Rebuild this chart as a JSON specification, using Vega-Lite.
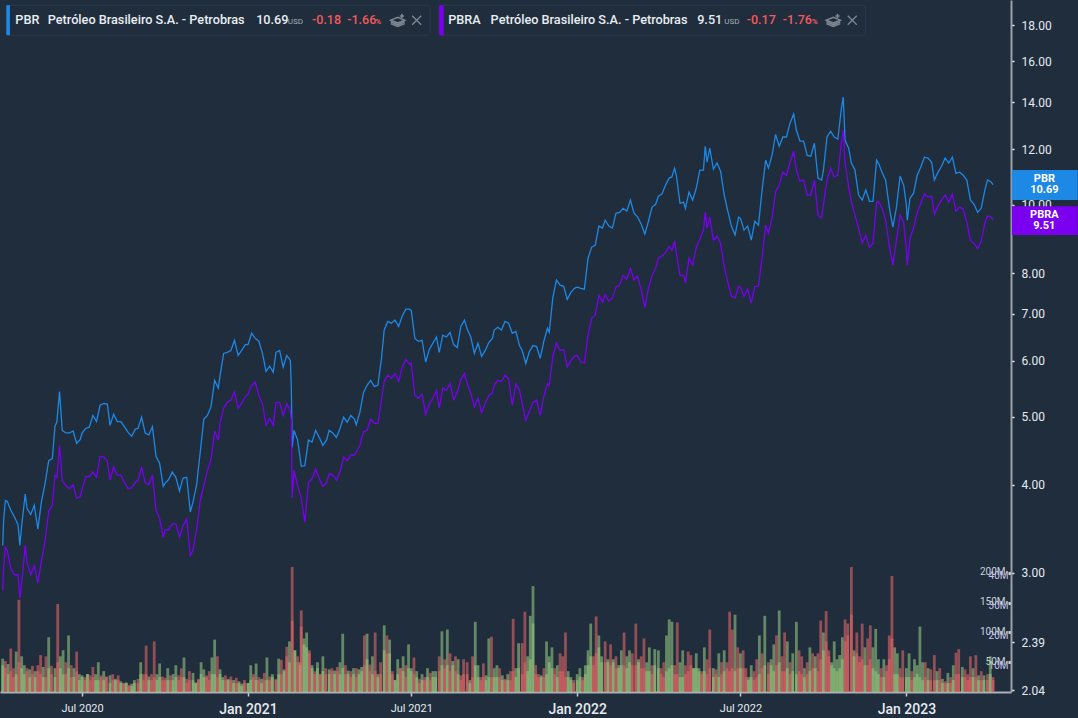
{
"$schema":"https://vega.github.io/schema/vega-lite/v6.json",
"width":1011,"height":692,
"autosize":"none",
"padding":{"left":0,"top":0,"right":67,"bottom":26},
"background":"#1f2d3d",
"config":{"view":{"stroke":null},"font":"Roboto"},
"datasets":{
"prices":[
{"d":"2020-04-04","PBR":3.28,"PBRA":2.83},{"d":"2020-04-05","PBR":3.56,"PBRA":3.05},{"d":"2020-04-07","PBR":3.8,"PBRA":3.26},{"d":"2020-04-09","PBR":3.79,"PBRA":3.23},{"d":"2020-04-13","PBR":3.68,"PBRA":3.04},{"d":"2020-04-17","PBR":3.6,"PBRA":2.98},{"d":"2020-04-21","PBR":3.51,"PBRA":2.98},{"d":"2020-04-23","PBR":3.28,"PBRA":2.76},{"d":"2020-04-25","PBR":3.5,"PBRA":2.9},{"d":"2020-04-29","PBR":3.88,"PBRA":3.28},
{"d":"2020-05-01","PBR":3.7,"PBRA":3.1},{"d":"2020-05-05","PBR":3.63,"PBRA":2.98},{"d":"2020-05-09","PBR":3.74,"PBRA":3.07},{"d":"2020-05-13","PBR":3.46,"PBRA":2.9},{"d":"2020-05-17","PBR":3.79,"PBRA":3.12},{"d":"2020-05-21","PBR":4.02,"PBRA":3.33},{"d":"2020-05-25","PBR":4.33,"PBRA":3.67},{"d":"2020-05-29","PBR":4.36,"PBRA":3.74},
{"d":"2020-06-01","PBR":4.85,"PBRA":4.13},{"d":"2020-06-03","PBR":4.91,"PBRA":4.1},{"d":"2020-06-06","PBR":5.43,"PBRA":4.55},{"d":"2020-06-09","PBR":4.78,"PBRA":4.06},{"d":"2020-06-13","PBR":4.74,"PBRA":3.99},{"d":"2020-06-17","PBR":4.74,"PBRA":3.95},{"d":"2020-06-21","PBR":4.77,"PBRA":4.0},{"d":"2020-06-25","PBR":4.58,"PBRA":3.83},{"d":"2020-06-29","PBR":4.64,"PBRA":3.85},
{"d":"2020-07-01","PBR":4.74,"PBRA":3.94},{"d":"2020-07-05","PBR":4.81,"PBRA":4.11},{"d":"2020-07-09","PBR":4.83,"PBRA":4.11},{"d":"2020-07-13","PBR":5.02,"PBRA":4.17},{"d":"2020-07-17","PBR":4.92,"PBRA":4.1},{"d":"2020-07-21","PBR":5.19,"PBRA":4.39},{"d":"2020-07-25","PBR":5.22,"PBRA":4.38},{"d":"2020-07-29","PBR":5.21,"PBRA":4.33},
{"d":"2020-08-01","PBR":4.86,"PBRA":4.06},{"d":"2020-08-05","PBR":5.04,"PBRA":4.24},{"d":"2020-08-09","PBR":4.92,"PBRA":4.13},{"d":"2020-08-13","PBR":4.92,"PBRA":4.13},{"d":"2020-08-17","PBR":4.84,"PBRA":4.03},{"d":"2020-08-21","PBR":4.75,"PBRA":3.95},{"d":"2020-08-25","PBR":4.69,"PBRA":3.96},{"d":"2020-08-29","PBR":4.8,"PBRA":4.03},
{"d":"2020-09-01","PBR":4.81,"PBRA":4.06},{"d":"2020-09-05","PBR":4.99,"PBRA":4.24},{"d":"2020-09-09","PBR":4.74,"PBRA":4.03},{"d":"2020-09-13","PBR":4.71,"PBRA":4.0},{"d":"2020-09-17","PBR":4.84,"PBRA":4.13},{"d":"2020-09-21","PBR":4.39,"PBRA":3.68},{"d":"2020-09-25","PBR":4.29,"PBRA":3.58},{"d":"2020-09-29","PBR":3.98,"PBRA":3.37},
{"d":"2020-10-01","PBR":4.02,"PBRA":3.45},{"d":"2020-10-05","PBR":4.07,"PBRA":3.45},{"d":"2020-10-09","PBR":4.17,"PBRA":3.52},{"d":"2020-10-13","PBR":4.1,"PBRA":3.52},{"d":"2020-10-17","PBR":3.92,"PBRA":3.37},{"d":"2020-10-21","PBR":4.09,"PBRA":3.5},{"d":"2020-10-25","PBR":4.1,"PBRA":3.58},{"d":"2020-10-29","PBR":3.66,"PBRA":3.17},
{"d":"2020-11-01","PBR":3.78,"PBRA":3.23},{"d":"2020-11-05","PBR":4.0,"PBRA":3.45},{"d":"2020-11-09","PBR":4.45,"PBRA":3.8},{"d":"2020-11-13","PBR":4.96,"PBRA":3.99},{"d":"2020-11-17","PBR":5.02,"PBRA":4.19},{"d":"2020-11-21","PBR":5.17,"PBRA":4.35},{"d":"2020-11-25","PBR":5.63,"PBRA":4.77},{"d":"2020-11-29","PBR":5.49,"PBRA":4.63},
{"d":"2020-12-01","PBR":5.72,"PBRA":4.89},{"d":"2020-12-05","PBR":6.15,"PBRA":5.14},{"d":"2020-12-09","PBR":6.17,"PBRA":5.24},{"d":"2020-12-13","PBR":6.21,"PBRA":5.28},{"d":"2020-12-17","PBR":6.42,"PBRA":5.42},{"d":"2020-12-21","PBR":6.11,"PBRA":5.14},{"d":"2020-12-25","PBR":6.21,"PBRA":5.22},{"d":"2020-12-29","PBR":6.33,"PBRA":5.34},
{"d":"2021-01-01","PBR":6.33,"PBRA":5.38},{"d":"2021-01-05","PBR":6.57,"PBRA":5.54},{"d":"2021-01-09","PBR":6.46,"PBRA":5.6},{"d":"2021-01-13","PBR":6.4,"PBRA":5.36},{"d":"2021-01-17","PBR":6.15,"PBRA":5.22},{"d":"2021-01-21","PBR":5.8,"PBRA":4.86},{"d":"2021-01-25","PBR":5.9,"PBRA":4.97},{"d":"2021-01-29","PBR":5.78,"PBRA":4.86},
{"d":"2021-02-01","PBR":6.17,"PBRA":5.24},{"d":"2021-02-05","PBR":6.21,"PBRA":5.24},{"d":"2021-02-09","PBR":5.88,"PBRA":5.02},{"d":"2021-02-13","PBR":6.11,"PBRA":5.22},{"d":"2021-02-17","PBR":6.01,"PBRA":5.09},{"d":"2021-02-18","PBR":5.5,"PBRA":4.94},{"d":"2021-02-19","PBR":4.52,"PBRA":3.83},{"d":"2021-02-21","PBR":4.78,"PBRA":4.19},{"d":"2021-02-25","PBR":4.63,"PBRA":3.99},
{"d":"2021-03-01","PBR":4.25,"PBRA":3.83},{"d":"2021-03-05","PBR":4.26,"PBRA":3.54},{"d":"2021-03-09","PBR":4.63,"PBRA":4.03},{"d":"2021-03-13","PBR":4.6,"PBRA":4.08},{"d":"2021-03-17","PBR":4.78,"PBRA":4.21},{"d":"2021-03-21","PBR":4.67,"PBRA":4.08},{"d":"2021-03-25","PBR":4.55,"PBRA":3.98},{"d":"2021-03-29","PBR":4.63,"PBRA":4.02},
{"d":"2021-04-01","PBR":4.78,"PBRA":4.15},{"d":"2021-04-05","PBR":4.74,"PBRA":4.13},{"d":"2021-04-09","PBR":4.67,"PBRA":4.06},{"d":"2021-04-13","PBR":4.81,"PBRA":4.17},{"d":"2021-04-17","PBR":4.99,"PBRA":4.38},{"d":"2021-04-21","PBR":4.91,"PBRA":4.33},{"d":"2021-04-25","PBR":5.02,"PBRA":4.41},{"d":"2021-04-29","PBR":4.96,"PBRA":4.41},
{"d":"2021-05-01","PBR":4.87,"PBRA":4.45},{"d":"2021-05-05","PBR":5.07,"PBRA":4.55},{"d":"2021-05-09","PBR":5.41,"PBRA":4.76},{"d":"2021-05-13","PBR":5.54,"PBRA":4.78},{"d":"2021-05-17","PBR":5.63,"PBRA":4.96},{"d":"2021-05-21","PBR":5.52,"PBRA":4.89},{"d":"2021-05-25","PBR":5.54,"PBRA":4.89},{"d":"2021-05-29","PBR":6.05,"PBRA":5.28},
{"d":"2021-06-01","PBR":6.64,"PBRA":5.61},{"d":"2021-06-05","PBR":6.83,"PBRA":5.73},{"d":"2021-06-09","PBR":6.79,"PBRA":5.67},{"d":"2021-06-13","PBR":6.86,"PBRA":5.76},{"d":"2021-06-17","PBR":6.72,"PBRA":5.61},{"d":"2021-06-21","PBR":6.95,"PBRA":5.88},{"d":"2021-06-25","PBR":7.11,"PBRA":6.03},{"d":"2021-06-29","PBR":7.11,"PBRA":5.94},
{"d":"2021-07-01","PBR":7.08,"PBRA":5.96},{"d":"2021-07-05","PBR":6.46,"PBRA":5.36},{"d":"2021-07-09","PBR":6.4,"PBRA":5.31},{"d":"2021-07-13","PBR":6.42,"PBRA":5.38},{"d":"2021-07-17","PBR":5.98,"PBRA":5.04},{"d":"2021-07-21","PBR":6.23,"PBRA":5.21},{"d":"2021-07-25","PBR":6.36,"PBRA":5.31},{"d":"2021-07-29","PBR":6.49,"PBRA":5.45},
{"d":"2021-08-01","PBR":6.17,"PBRA":5.14},{"d":"2021-08-05","PBR":6.53,"PBRA":5.49},{"d":"2021-08-09","PBR":6.49,"PBRA":5.45},{"d":"2021-08-13","PBR":6.59,"PBRA":5.57},{"d":"2021-08-17","PBR":6.33,"PBRA":5.29},{"d":"2021-08-21","PBR":6.27,"PBRA":5.41},{"d":"2021-08-25","PBR":6.72,"PBRA":5.65},{"d":"2021-08-29","PBR":6.86,"PBRA":5.76},
{"d":"2021-09-01","PBR":6.66,"PBRA":5.57},{"d":"2021-09-05","PBR":6.49,"PBRA":5.4},{"d":"2021-09-09","PBR":6.15,"PBRA":5.16},{"d":"2021-09-13","PBR":6.36,"PBRA":5.31},{"d":"2021-09-17","PBR":6.09,"PBRA":5.07},{"d":"2021-09-21","PBR":6.21,"PBRA":5.22},{"d":"2021-09-25","PBR":6.37,"PBRA":5.36},{"d":"2021-09-29","PBR":6.46,"PBRA":5.4},
{"d":"2021-10-01","PBR":6.64,"PBRA":5.54},{"d":"2021-10-05","PBR":6.7,"PBRA":5.63},{"d":"2021-10-09","PBR":6.64,"PBRA":5.61},{"d":"2021-10-13","PBR":6.83,"PBRA":5.73},{"d":"2021-10-17","PBR":6.79,"PBRA":5.65},{"d":"2021-10-21","PBR":6.57,"PBRA":5.19},{"d":"2021-10-25","PBR":6.61,"PBRA":5.57},{"d":"2021-10-29","PBR":6.31,"PBRA":5.45},
{"d":"2021-11-01","PBR":6.21,"PBRA":5.22},{"d":"2021-11-05","PBR":5.95,"PBRA":4.94},{"d":"2021-11-09","PBR":6.19,"PBRA":5.09},{"d":"2021-11-13","PBR":6.31,"PBRA":5.24},{"d":"2021-11-17","PBR":6.29,"PBRA":5.28},{"d":"2021-11-21","PBR":6.05,"PBRA":5.02},{"d":"2021-11-25","PBR":6.4,"PBRA":5.34},{"d":"2021-11-29","PBR":6.68,"PBRA":5.57},
{"d":"2021-12-01","PBR":6.59,"PBRA":5.54},{"d":"2021-12-05","PBR":7.39,"PBRA":6.09},{"d":"2021-12-09","PBR":7.82,"PBRA":6.36},{"d":"2021-12-13","PBR":7.69,"PBRA":6.21},{"d":"2021-12-17","PBR":7.66,"PBRA":6.23},{"d":"2021-12-21","PBR":7.34,"PBRA":5.88},{"d":"2021-12-25","PBR":7.51,"PBRA":6.01},{"d":"2021-12-29","PBR":7.61,"PBRA":6.09},
{"d":"2022-01-01","PBR":7.64,"PBRA":6.11},{"d":"2022-01-05","PBR":7.61,"PBRA":5.98},{"d":"2022-01-09","PBR":7.59,"PBRA":5.96},{"d":"2022-01-13","PBR":8.4,"PBRA":6.53},{"d":"2022-01-17","PBR":8.71,"PBRA":6.9},{"d":"2022-01-21","PBR":8.76,"PBRA":6.97},{"d":"2022-01-25","PBR":9.33,"PBRA":7.44},{"d":"2022-01-29","PBR":9.27,"PBRA":7.27},
{"d":"2022-02-01","PBR":9.51,"PBRA":7.46},{"d":"2022-02-05","PBR":9.33,"PBRA":7.3},{"d":"2022-02-09","PBR":9.27,"PBRA":7.37},{"d":"2022-02-13","PBR":9.73,"PBRA":7.64},{"d":"2022-02-17","PBR":9.76,"PBRA":7.69},{"d":"2022-02-21","PBR":9.89,"PBRA":7.94},{"d":"2022-02-25","PBR":9.8,"PBRA":7.84},
{"d":"2022-03-01","PBR":10.16,"PBRA":8.13},{"d":"2022-03-05","PBR":9.73,"PBRA":7.82},{"d":"2022-03-09","PBR":9.61,"PBRA":7.92},{"d":"2022-03-13","PBR":9.39,"PBRA":7.56},{"d":"2022-03-17","PBR":9.09,"PBRA":7.15},{"d":"2022-03-21","PBR":9.48,"PBRA":7.61},{"d":"2022-03-25","PBR":9.93,"PBRA":7.94},{"d":"2022-03-29","PBR":10.02,"PBRA":8.13},
{"d":"2022-04-01","PBR":10.29,"PBRA":8.4},{"d":"2022-04-05","PBR":10.36,"PBRA":8.46},{"d":"2022-04-09","PBR":10.67,"PBRA":8.56},{"d":"2022-04-13","PBR":10.92,"PBRA":8.73},{"d":"2022-04-16","PBR":10.96,"PBRA":8.62},{"d":"2022-04-19","PBR":11.28,"PBRA":8.88},{"d":"2022-04-21","PBR":11.0,"PBRA":8.54},{"d":"2022-04-25","PBR":10.05,"PBRA":7.94},{"d":"2022-04-29","PBR":10.09,"PBRA":7.94},
{"d":"2022-05-01","PBR":9.89,"PBRA":7.74},{"d":"2022-05-05","PBR":10.43,"PBRA":8.4},{"d":"2022-05-09","PBR":10.16,"PBRA":8.21},{"d":"2022-05-13","PBR":10.56,"PBRA":8.7},{"d":"2022-05-17","PBR":11.21,"PBRA":8.94},{"d":"2022-05-21","PBR":11.21,"PBRA":9.21},{"d":"2022-05-23","PBR":12.12,"PBRA":9.76},{"d":"2022-05-25","PBR":11.5,"PBRA":9.27},{"d":"2022-05-28","PBR":12.04,"PBRA":9.61},
{"d":"2022-06-01","PBR":11.24,"PBRA":8.91},{"d":"2022-06-05","PBR":11.47,"PBRA":9.03},{"d":"2022-06-09","PBR":11.17,"PBRA":8.82},{"d":"2022-06-13","PBR":10.33,"PBRA":8.18},{"d":"2022-06-17","PBR":9.8,"PBRA":7.76},{"d":"2022-06-21","PBR":9.33,"PBRA":7.42},{"d":"2022-06-25","PBR":9.06,"PBRA":7.37},{"d":"2022-06-29","PBR":9.61,"PBRA":7.66},
{"d":"2022-07-01","PBR":9.57,"PBRA":7.64},{"d":"2022-07-05","PBR":9.21,"PBRA":7.41},{"d":"2022-07-09","PBR":9.33,"PBRA":7.59},{"d":"2022-07-13","PBR":8.91,"PBRA":7.25},{"d":"2022-07-17","PBR":9.48,"PBRA":7.66},{"d":"2022-07-21","PBR":9.36,"PBRA":7.66},{"d":"2022-07-25","PBR":10.5,"PBRA":8.43},{"d":"2022-07-29","PBR":11.58,"PBRA":9.36},
{"d":"2022-08-01","PBR":11.28,"PBRA":9.12},{"d":"2022-08-05","PBR":11.76,"PBRA":9.58},{"d":"2022-08-09","PBR":12.6,"PBRA":10.43},{"d":"2022-08-13","PBR":12.12,"PBRA":10.67},{"d":"2022-08-17","PBR":12.49,"PBRA":11.13},{"d":"2022-08-21","PBR":12.49,"PBRA":11.02},{"d":"2022-08-25","PBR":13.07,"PBRA":11.5},{"d":"2022-08-29","PBR":13.47,"PBRA":11.92},
{"d":"2022-09-01","PBR":12.78,"PBRA":11.21},{"d":"2022-09-05","PBR":12.32,"PBRA":10.81},{"d":"2022-09-09","PBR":12.32,"PBRA":10.85},{"d":"2022-09-13","PBR":11.76,"PBRA":10.33},{"d":"2022-09-17","PBR":11.73,"PBRA":10.33},{"d":"2022-09-21","PBR":12.24,"PBRA":10.85},{"d":"2022-09-25","PBR":10.92,"PBRA":9.67},{"d":"2022-09-29","PBR":10.85,"PBRA":9.58},
{"d":"2022-10-01","PBR":11.21,"PBRA":10.0},{"d":"2022-10-05","PBR":12.49,"PBRA":10.85},{"d":"2022-10-09","PBR":12.73,"PBRA":11.28},{"d":"2022-10-13","PBR":12.49,"PBRA":10.96},{"d":"2022-10-17","PBR":12.41,"PBRA":11.02},{"d":"2022-10-21","PBR":13.73,"PBRA":12.28},{"d":"2022-10-23","PBR":14.23,"PBRA":12.78},{"d":"2022-10-25","PBR":12.36,"PBRA":11.5},{"d":"2022-10-29","PBR":12.04,"PBRA":10.6},
{"d":"2022-11-01","PBR":11.47,"PBRA":10.12},{"d":"2022-11-05","PBR":11.21,"PBRA":9.67},{"d":"2022-11-09","PBR":10.33,"PBRA":9.27},{"d":"2022-11-13","PBR":10.16,"PBRA":8.82},{"d":"2022-11-17","PBR":10.5,"PBRA":9.06},{"d":"2022-11-21","PBR":10.12,"PBRA":8.7},{"d":"2022-11-25","PBR":10.12,"PBRA":8.82},{"d":"2022-11-29","PBR":11.58,"PBRA":10.09},
{"d":"2022-12-01","PBR":11.47,"PBRA":10.12},{"d":"2022-12-05","PBR":11.13,"PBRA":9.89},{"d":"2022-12-09","PBR":10.85,"PBRA":9.51},{"d":"2022-12-13","PBR":9.93,"PBRA":8.76},{"d":"2022-12-17","PBR":9.3,"PBRA":8.21},{"d":"2022-12-21","PBR":9.93,"PBRA":8.91},{"d":"2022-12-25","PBR":10.99,"PBRA":9.67},{"d":"2022-12-29","PBR":10.67,"PBRA":9.45},
{"d":"2023-01-01","PBR":9.99,"PBRA":8.62},{"d":"2023-01-02","PBR":9.51,"PBRA":8.21},{"d":"2023-01-05","PBR":10.22,"PBRA":8.97},{"d":"2023-01-09","PBR":10.39,"PBRA":9.27},{"d":"2023-01-13","PBR":11.02,"PBRA":9.76},{"d":"2023-01-17","PBR":11.32,"PBRA":10.05},{"d":"2023-01-21","PBR":11.69,"PBRA":10.36},{"d":"2023-01-25","PBR":11.66,"PBRA":10.26},{"d":"2023-01-29","PBR":11.5,"PBRA":10.29},
{"d":"2023-02-01","PBR":10.85,"PBRA":9.7},{"d":"2023-02-05","PBR":11.13,"PBRA":9.96},{"d":"2023-02-09","PBR":11.35,"PBRA":10.16},{"d":"2023-02-13","PBR":11.66,"PBRA":10.33},{"d":"2023-02-17","PBR":11.47,"PBRA":10.09},{"d":"2023-02-21","PBR":11.69,"PBRA":10.36},{"d":"2023-02-25","PBR":11.09,"PBRA":9.8},
{"d":"2023-03-01","PBR":11.13,"PBRA":9.93},{"d":"2023-03-05","PBR":11.02,"PBRA":9.86},{"d":"2023-03-09","PBR":10.85,"PBRA":9.45},{"d":"2023-03-13","PBR":10.16,"PBRA":8.91},{"d":"2023-03-17","PBR":10.02,"PBRA":8.82},{"d":"2023-03-21","PBR":9.76,"PBRA":8.67},{"d":"2023-03-25","PBR":9.89,"PBRA":8.88},{"d":"2023-03-29","PBR":10.5,"PBRA":9.42},
{"d":"2023-04-01","PBR":10.85,"PBRA":9.64},{"d":"2023-04-05","PBR":10.78,"PBRA":9.61},{"d":"2023-04-07","PBR":10.69,"PBRA":9.51}
],
"volume":[
{"d":"2020-04-04","vol":56,"volA":9,"dir":"up"},{"d":"2020-04-07","vol":52,"volA":8,"dir":"down"},{"d":"2020-04-10","vol":47,"volA":6,"dir":"up"},{"d":"2020-04-13","vol":73,"volA":7,"dir":"down"},{"d":"2020-04-16","vol":40,"volA":5,"dir":"down"},{"d":"2020-04-19","vol":68,"volA":6,"dir":"up"},{"d":"2020-04-22","vol":155,"volA":10,"dir":"down"},{"d":"2020-04-25","vol":60,"volA":8,"dir":"up"},{"d":"2020-04-28","vol":45,"volA":6,"dir":"up"},
{"d":"2020-05-01","vol":40,"volA":7,"dir":"down"},{"d":"2020-05-04","vol":38,"volA":5,"dir":"up"},{"d":"2020-05-07","vol":44,"volA":6,"dir":"down"},{"d":"2020-05-10","vol":35,"volA":5,"dir":"up"},{"d":"2020-05-13","vol":45,"volA":7,"dir":"down"},{"d":"2020-05-16","vol":62,"volA":6,"dir":"down"},{"d":"2020-05-19","vol":42,"volA":5,"dir":"up"},{"d":"2020-05-22","vol":60,"volA":5,"dir":"down"},{"d":"2020-05-25","vol":92,"volA":8,"dir":"up"},{"d":"2020-05-28","vol":44,"volA":6,"dir":"down"},
{"d":"2020-06-01","vol":40,"volA":5,"dir":"up"},{"d":"2020-06-04","vol":148,"volA":10,"dir":"down"},{"d":"2020-06-07","vol":60,"volA":8,"dir":"up"},{"d":"2020-06-10","vol":70,"volA":6,"dir":"up"},{"d":"2020-06-13","vol":50,"volA":6,"dir":"down"},{"d":"2020-06-16","vol":95,"volA":8,"dir":"up"},{"d":"2020-06-19","vol":45,"volA":5,"dir":"down"},{"d":"2020-06-22","vol":40,"volA":5,"dir":"up"},{"d":"2020-06-25","vol":68,"volA":7,"dir":"down"},{"d":"2020-06-28","vol":30,"volA":4,"dir":"up"},
{"d":"2020-07-01","vol":28,"volA":5,"dir":"up"},{"d":"2020-07-04","vol":25,"volA":4,"dir":"down"},{"d":"2020-07-07","vol":30,"volA":6,"dir":"up"},{"d":"2020-07-10","vol":28,"volA":4,"dir":"down"},{"d":"2020-07-13","vol":42,"volA":5,"dir":"down"},{"d":"2020-07-16","vol":30,"volA":4,"dir":"up"},{"d":"2020-07-19","vol":50,"volA":4,"dir":"up"},{"d":"2020-07-22","vol":28,"volA":5,"dir":"down"},{"d":"2020-07-25","vol":35,"volA":4,"dir":"up"},{"d":"2020-07-28","vol":26,"volA":5,"dir":"down"},
{"d":"2020-08-01","vol":28,"volA":3,"dir":"up"},{"d":"2020-08-04","vol":30,"volA":4,"dir":"down"},{"d":"2020-08-07","vol":22,"volA":4,"dir":"up"},{"d":"2020-08-10","vol":28,"volA":4,"dir":"down"},{"d":"2020-08-13","vol":18,"volA":3,"dir":"up"},{"d":"2020-08-16","vol":15,"volA":3,"dir":"down"},{"d":"2020-08-19","vol":16,"volA":3,"dir":"up"},{"d":"2020-08-22","vol":12,"volA":2,"dir":"down"},{"d":"2020-08-25","vol":14,"volA":2,"dir":"up"},{"d":"2020-08-28","vol":20,"volA":3,"dir":"up"},
{"d":"2020-09-01","vol":22,"volA":3,"dir":"down"},{"d":"2020-09-04","vol":50,"volA":6,"dir":"up"},{"d":"2020-09-07","vol":30,"volA":4,"dir":"down"},{"d":"2020-09-10","vol":78,"volA":6,"dir":"down"},{"d":"2020-09-13","vol":26,"volA":4,"dir":"up"},{"d":"2020-09-16","vol":30,"volA":4,"dir":"down"},{"d":"2020-09-19","vol":85,"volA":5,"dir":"down"},{"d":"2020-09-22","vol":30,"volA":4,"dir":"up"},{"d":"2020-09-25","vol":48,"volA":5,"dir":"up"},{"d":"2020-09-28","vol":26,"volA":4,"dir":"down"},
{"d":"2020-10-01","vol":24,"volA":4,"dir":"down"},{"d":"2020-10-04","vol":40,"volA":4,"dir":"up"},{"d":"2020-10-07","vol":28,"volA":4,"dir":"down"},{"d":"2020-10-10","vol":30,"volA":4,"dir":"up"},{"d":"2020-10-13","vol":45,"volA":5,"dir":"up"},{"d":"2020-10-16","vol":28,"volA":4,"dir":"down"},{"d":"2020-10-19","vol":40,"volA":5,"dir":"down"},{"d":"2020-10-22","vol":58,"volA":5,"dir":"up"},{"d":"2020-10-25","vol":22,"volA":3,"dir":"down"},{"d":"2020-10-28","vol":35,"volA":4,"dir":"down"},
{"d":"2020-11-01","vol":32,"volA":4,"dir":"up"},{"d":"2020-11-04","vol":16,"volA":3,"dir":"up"},{"d":"2020-11-07","vol":22,"volA":4,"dir":"down"},{"d":"2020-11-10","vol":50,"volA":6,"dir":"up"},{"d":"2020-11-13","vol":38,"volA":5,"dir":"up"},{"d":"2020-11-16","vol":28,"volA":5,"dir":"down"},{"d":"2020-11-19","vol":35,"volA":4,"dir":"down"},{"d":"2020-11-22","vol":58,"volA":6,"dir":"up"},{"d":"2020-11-25","vol":88,"volA":6,"dir":"up"},{"d":"2020-11-28","vol":60,"volA":5,"dir":"down"},
{"d":"2020-12-01","vol":38,"volA":6,"dir":"up"},{"d":"2020-12-04","vol":25,"volA":4,"dir":"up"},{"d":"2020-12-07","vol":28,"volA":4,"dir":"down"},{"d":"2020-12-10","vol":22,"volA":4,"dir":"up"},{"d":"2020-12-13","vol":26,"volA":4,"dir":"down"},{"d":"2020-12-16","vol":20,"volA":3,"dir":"up"},{"d":"2020-12-19","vol":24,"volA":3,"dir":"down"},{"d":"2020-12-22","vol":18,"volA":3,"dir":"up"},{"d":"2020-12-25","vol":14,"volA":2,"dir":"up"},{"d":"2020-12-28","vol":20,"volA":3,"dir":"down"},
{"d":"2021-01-01","vol":15,"volA":3,"dir":"up"},{"d":"2021-01-04","vol":45,"volA":4,"dir":"up"},{"d":"2021-01-07","vol":30,"volA":5,"dir":"down"},{"d":"2021-01-10","vol":48,"volA":4,"dir":"up"},{"d":"2021-01-13","vol":25,"volA":4,"dir":"down"},{"d":"2021-01-16","vol":22,"volA":3,"dir":"up"},{"d":"2021-01-19","vol":32,"volA":4,"dir":"down"},{"d":"2021-01-22","vol":58,"volA":4,"dir":"up"},{"d":"2021-01-25","vol":26,"volA":4,"dir":"down"},{"d":"2021-01-28","vol":30,"volA":5,"dir":"up"},
{"d":"2021-02-01","vol":22,"volA":4,"dir":"down"},{"d":"2021-02-04","vol":56,"volA":6,"dir":"up"},{"d":"2021-02-07","vol":54,"volA":6,"dir":"down"},{"d":"2021-02-10","vol":38,"volA":7,"dir":"up"},{"d":"2021-02-13","vol":76,"volA":12,"dir":"down"},{"d":"2021-02-16","vol":85,"volA":10,"dir":"up"},{"d":"2021-02-19","vol":210,"volA":24,"dir":"down"},{"d":"2021-02-22","vol":70,"volA":14,"dir":"up"},{"d":"2021-02-25","vol":60,"volA":10,"dir":"down"},{"d":"2021-02-28","vol":50,"volA":9,"dir":"up"},
{"d":"2021-03-01","vol":137,"volA":22,"dir":"down"},{"d":"2021-03-04","vol":90,"volA":16,"dir":"up"},{"d":"2021-03-07","vol":75,"volA":20,"dir":"up"},{"d":"2021-03-10","vol":65,"volA":14,"dir":"down"},{"d":"2021-03-13","vol":40,"volA":9,"dir":"up"},{"d":"2021-03-16","vol":30,"volA":7,"dir":"down"},{"d":"2021-03-19","vol":50,"volA":8,"dir":"up"},{"d":"2021-03-22","vol":30,"volA":6,"dir":"down"},{"d":"2021-03-25","vol":60,"volA":7,"dir":"up"},{"d":"2021-03-28","vol":40,"volA":6,"dir":"down"},
{"d":"2021-04-01","vol":38,"volA":6,"dir":"up"},{"d":"2021-04-04","vol":40,"volA":7,"dir":"down"},{"d":"2021-04-07","vol":36,"volA":6,"dir":"up"},{"d":"2021-04-10","vol":42,"volA":7,"dir":"down"},{"d":"2021-04-13","vol":50,"volA":6,"dir":"up"},{"d":"2021-04-16","vol":98,"volA":8,"dir":"up"},{"d":"2021-04-19","vol":45,"volA":6,"dir":"down"},{"d":"2021-04-22","vol":36,"volA":6,"dir":"up"},{"d":"2021-04-25","vol":35,"volA":5,"dir":"down"},{"d":"2021-04-28","vol":40,"volA":6,"dir":"up"},
{"d":"2021-05-01","vol":40,"volA":5,"dir":"down"},{"d":"2021-05-04","vol":38,"volA":6,"dir":"up"},{"d":"2021-05-07","vol":42,"volA":7,"dir":"up"},{"d":"2021-05-10","vol":95,"volA":9,"dir":"down"},{"d":"2021-05-13","vol":98,"volA":11,"dir":"up"},{"d":"2021-05-16","vol":46,"volA":7,"dir":"down"},{"d":"2021-05-19","vol":60,"volA":6,"dir":"up"},{"d":"2021-05-22","vol":100,"volA":7,"dir":"down"},{"d":"2021-05-25","vol":30,"volA":5,"dir":"up"},{"d":"2021-05-28","vol":50,"volA":6,"dir":"down"},
{"d":"2021-06-01","vol":112,"volA":14,"dir":"up"},{"d":"2021-06-04","vol":95,"volA":13,"dir":"down"},{"d":"2021-06-07","vol":88,"volA":13,"dir":"up"},{"d":"2021-06-10","vol":35,"volA":6,"dir":"down"},{"d":"2021-06-13","vol":20,"volA":4,"dir":"up"},{"d":"2021-06-16","vol":55,"volA":6,"dir":"up"},{"d":"2021-06-19","vol":40,"volA":8,"dir":"down"},{"d":"2021-06-22","vol":60,"volA":7,"dir":"up"},{"d":"2021-06-25","vol":45,"volA":5,"dir":"down"},{"d":"2021-06-28","vol":80,"volA":8,"dir":"up"},
{"d":"2021-07-01","vol":40,"volA":7,"dir":"up"},{"d":"2021-07-04","vol":58,"volA":6,"dir":"down"},{"d":"2021-07-07","vol":35,"volA":5,"dir":"up"},{"d":"2021-07-10","vol":22,"volA":3,"dir":"down"},{"d":"2021-07-13","vol":30,"volA":4,"dir":"up"},{"d":"2021-07-16","vol":25,"volA":4,"dir":"down"},{"d":"2021-07-19","vol":40,"volA":5,"dir":"up"},{"d":"2021-07-22","vol":32,"volA":4,"dir":"down"},{"d":"2021-07-25","vol":35,"volA":5,"dir":"up"},{"d":"2021-07-28","vol":35,"volA":5,"dir":"up"},
{"d":"2021-08-01","vol":60,"volA":7,"dir":"down"},{"d":"2021-08-04","vol":102,"volA":9,"dir":"up"},{"d":"2021-08-07","vol":55,"volA":8,"dir":"down"},{"d":"2021-08-10","vol":105,"volA":9,"dir":"up"},{"d":"2021-08-13","vol":65,"volA":7,"dir":"down"},{"d":"2021-08-16","vol":52,"volA":9,"dir":"up"},{"d":"2021-08-19","vol":60,"volA":7,"dir":"down"},{"d":"2021-08-22","vol":55,"volA":6,"dir":"up"},{"d":"2021-08-25","vol":28,"volA":4,"dir":"down"},{"d":"2021-08-28","vol":55,"volA":6,"dir":"down"},
{"d":"2021-09-01","vol":50,"volA":6,"dir":"down"},{"d":"2021-09-04","vol":20,"volA":3,"dir":"up"},{"d":"2021-09-07","vol":60,"volA":5,"dir":"down"},{"d":"2021-09-10","vol":118,"volA":9,"dir":"up"},{"d":"2021-09-13","vol":45,"volA":5,"dir":"up"},{"d":"2021-09-16","vol":25,"volA":4,"dir":"down"},{"d":"2021-09-19","vol":48,"volA":5,"dir":"down"},{"d":"2021-09-22","vol":28,"volA":4,"dir":"up"},{"d":"2021-09-25","vol":90,"volA":5,"dir":"up"},{"d":"2021-09-28","vol":93,"volA":5,"dir":"down"},
{"d":"2021-10-01","vol":40,"volA":5,"dir":"up"},{"d":"2021-10-04","vol":45,"volA":5,"dir":"up"},{"d":"2021-10-07","vol":40,"volA":5,"dir":"down"},{"d":"2021-10-10","vol":28,"volA":4,"dir":"up"},{"d":"2021-10-13","vol":22,"volA":4,"dir":"down"},{"d":"2021-10-16","vol":30,"volA":4,"dir":"up"},{"d":"2021-10-19","vol":35,"volA":4,"dir":"down"},{"d":"2021-10-22","vol":123,"volA":7,"dir":"down"},{"d":"2021-10-25","vol":40,"volA":5,"dir":"up"},{"d":"2021-10-28","vol":82,"volA":8,"dir":"up"},
{"d":"2021-11-01","vol":82,"volA":6,"dir":"down"},{"d":"2021-11-04","vol":135,"volA":10,"dir":"down"},{"d":"2021-11-07","vol":60,"volA":7,"dir":"up"},{"d":"2021-11-10","vol":128,"volA":11,"dir":"up"},{"d":"2021-11-13","vol":178,"volA":23,"dir":"up"},{"d":"2021-11-16","vol":45,"volA":6,"dir":"down"},{"d":"2021-11-19","vol":30,"volA":5,"dir":"down"},{"d":"2021-11-22","vol":28,"volA":5,"dir":"up"},{"d":"2021-11-25","vol":40,"volA":5,"dir":"down"},{"d":"2021-11-28","vol":85,"volA":6,"dir":"up"},
{"d":"2021-12-01","vol":60,"volA":10,"dir":"up"},{"d":"2021-12-04","vol":75,"volA":8,"dir":"up"},{"d":"2021-12-07","vol":40,"volA":6,"dir":"down"},{"d":"2021-12-10","vol":45,"volA":5,"dir":"up"},{"d":"2021-12-13","vol":65,"volA":7,"dir":"down"},{"d":"2021-12-16","vol":60,"volA":7,"dir":"down"},{"d":"2021-12-19","vol":100,"volA":5,"dir":"down"},{"d":"2021-12-22","vol":35,"volA":5,"dir":"up"},{"d":"2021-12-25","vol":25,"volA":4,"dir":"up"},{"d":"2021-12-28","vol":20,"volA":3,"dir":"down"},
{"d":"2022-01-01","vol":30,"volA":4,"dir":"up"},{"d":"2022-01-04","vol":40,"volA":5,"dir":"up"},{"d":"2022-01-07","vol":25,"volA":4,"dir":"down"},{"d":"2022-01-10","vol":45,"volA":6,"dir":"up"},{"d":"2022-01-13","vol":70,"volA":9,"dir":"up"},{"d":"2022-01-16","vol":115,"volA":12,"dir":"up"},{"d":"2022-01-19","vol":60,"volA":9,"dir":"down"},{"d":"2022-01-22","vol":127,"volA":13,"dir":"down"},{"d":"2022-01-25","vol":95,"volA":15,"dir":"up"},{"d":"2022-01-28","vol":50,"volA":12,"dir":"up"},
{"d":"2022-02-01","vol":85,"volA":10,"dir":"down"},{"d":"2022-02-04","vol":55,"volA":10,"dir":"up"},{"d":"2022-02-07","vol":80,"volA":9,"dir":"down"},{"d":"2022-02-10","vol":50,"volA":11,"dir":"up"},{"d":"2022-02-13","vol":60,"volA":8,"dir":"down"},{"d":"2022-02-16","vol":45,"volA":8,"dir":"up"},{"d":"2022-02-19","vol":70,"volA":9,"dir":"up"},{"d":"2022-02-22","vol":100,"volA":9,"dir":"down"},{"d":"2022-02-25","vol":60,"volA":8,"dir":"up"},{"d":"2022-02-28","vol":70,"volA":10,"dir":"up"},
{"d":"2022-03-03","vol":65,"volA":9,"dir":"down"},{"d":"2022-03-07","vol":115,"volA":9,"dir":"down"},{"d":"2022-03-10","vol":55,"volA":10,"dir":"up"},{"d":"2022-03-13","vol":60,"volA":8,"dir":"down"},{"d":"2022-03-16","vol":90,"volA":8,"dir":"down"},{"d":"2022-03-19","vol":50,"volA":7,"dir":"up"},{"d":"2022-03-22","vol":75,"volA":7,"dir":"up"},{"d":"2022-03-25","vol":45,"volA":6,"dir":"down"},{"d":"2022-03-28","vol":72,"volA":9,"dir":"up"},
{"d":"2022-04-01","vol":70,"volA":8,"dir":"up"},{"d":"2022-04-04","vol":40,"volA":6,"dir":"down"},{"d":"2022-04-07","vol":50,"volA":5,"dir":"down"},{"d":"2022-04-10","vol":95,"volA":7,"dir":"up"},{"d":"2022-04-13","vol":122,"volA":8,"dir":"up"},{"d":"2022-04-16","vol":118,"volA":9,"dir":"up"},{"d":"2022-04-19","vol":45,"volA":6,"dir":"down"},{"d":"2022-04-22","vol":117,"volA":6,"dir":"down"},{"d":"2022-04-25","vol":50,"volA":5,"dir":"up"},{"d":"2022-04-28","vol":70,"volA":5,"dir":"up"},
{"d":"2022-05-01","vol":45,"volA":6,"dir":"down"},{"d":"2022-05-04","vol":68,"volA":7,"dir":"down"},{"d":"2022-05-07","vol":62,"volA":9,"dir":"down"},{"d":"2022-05-10","vol":40,"volA":8,"dir":"up"},{"d":"2022-05-13","vol":65,"volA":8,"dir":"up"},{"d":"2022-05-16","vol":40,"volA":7,"dir":"up"},{"d":"2022-05-19","vol":35,"volA":6,"dir":"down"},{"d":"2022-05-22","vol":75,"volA":7,"dir":"up"},{"d":"2022-05-25","vol":55,"volA":6,"dir":"down"},{"d":"2022-05-28","vol":105,"volA":8,"dir":"down"},
{"d":"2022-06-01","vol":40,"volA":5,"dir":"up"},{"d":"2022-06-04","vol":38,"volA":6,"dir":"down"},{"d":"2022-06-07","vol":65,"volA":5,"dir":"up"},{"d":"2022-06-10","vol":50,"volA":6,"dir":"down"},{"d":"2022-06-13","vol":70,"volA":7,"dir":"up"},{"d":"2022-06-16","vol":50,"volA":8,"dir":"down"},{"d":"2022-06-19","vol":135,"volA":7,"dir":"down"},{"d":"2022-06-22","vol":105,"volA":8,"dir":"down"},{"d":"2022-06-25","vol":130,"volA":7,"dir":"up"},{"d":"2022-06-28","vol":75,"volA":8,"dir":"down"},
{"d":"2022-07-01","vol":65,"volA":8,"dir":"up"},{"d":"2022-07-04","vol":70,"volA":8,"dir":"down"},{"d":"2022-07-07","vol":40,"volA":5,"dir":"down"},{"d":"2022-07-10","vol":25,"volA":4,"dir":"up"},{"d":"2022-07-13","vol":45,"volA":5,"dir":"up"},{"d":"2022-07-16","vol":35,"volA":4,"dir":"down"},{"d":"2022-07-19","vol":55,"volA":5,"dir":"down"},{"d":"2022-07-22","vol":95,"volA":6,"dir":"up"},{"d":"2022-07-25","vol":65,"volA":8,"dir":"down"},{"d":"2022-07-28","vol":128,"volA":9,"dir":"up"},
{"d":"2022-08-01","vol":50,"volA":6,"dir":"down"},{"d":"2022-08-04","vol":55,"volA":9,"dir":"up"},{"d":"2022-08-07","vol":80,"volA":7,"dir":"up"},{"d":"2022-08-10","vol":95,"volA":9,"dir":"down"},{"d":"2022-08-13","vol":137,"volA":10,"dir":"up"},{"d":"2022-08-16","vol":60,"volA":7,"dir":"down"},{"d":"2022-08-19","vol":100,"volA":7,"dir":"down"},{"d":"2022-08-22","vol":85,"volA":8,"dir":"up"},{"d":"2022-08-25","vol":50,"volA":6,"dir":"down"},{"d":"2022-08-28","vol":65,"volA":7,"dir":"up"},
{"d":"2022-09-01","vol":118,"volA":6,"dir":"up"},{"d":"2022-09-04","vol":70,"volA":7,"dir":"down"},{"d":"2022-09-07","vol":60,"volA":6,"dir":"down"},{"d":"2022-09-10","vol":40,"volA":5,"dir":"up"},{"d":"2022-09-13","vol":50,"volA":6,"dir":"down"},{"d":"2022-09-16","vol":75,"volA":7,"dir":"up"},{"d":"2022-09-19","vol":65,"volA":8,"dir":"down"},{"d":"2022-09-22","vol":60,"volA":8,"dir":"up"},{"d":"2022-09-25","vol":65,"volA":7,"dir":"down"},{"d":"2022-09-28","vol":120,"volA":11,"dir":"down"},
{"d":"2022-10-01","vol":100,"volA":14,"dir":"up"},{"d":"2022-10-04","vol":136,"volA":17,"dir":"down"},{"d":"2022-10-07","vol":70,"volA":12,"dir":"down"},{"d":"2022-10-10","vol":50,"volA":9,"dir":"up"},{"d":"2022-10-13","vol":85,"volA":8,"dir":"up"},{"d":"2022-10-16","vol":55,"volA":7,"dir":"up"},{"d":"2022-10-19","vol":62,"volA":8,"dir":"up"},{"d":"2022-10-22","vol":92,"volA":11,"dir":"up"},{"d":"2022-10-25","vol":122,"volA":17,"dir":"down"},{"d":"2022-10-28","vol":95,"volA":23,"dir":"down"},
{"d":"2022-11-01","vol":210,"volA":26,"dir":"down"},{"d":"2022-11-04","vol":70,"volA":12,"dir":"up"},{"d":"2022-11-07","vol":100,"volA":13,"dir":"down"},{"d":"2022-11-10","vol":60,"volA":10,"dir":"down"},{"d":"2022-11-13","vol":115,"volA":11,"dir":"down"},{"d":"2022-11-16","vol":75,"volA":9,"dir":"up"},{"d":"2022-11-19","vol":90,"volA":9,"dir":"down"},{"d":"2022-11-22","vol":112,"volA":11,"dir":"down"},{"d":"2022-11-25","vol":75,"volA":8,"dir":"up"},{"d":"2022-11-28","vol":106,"volA":7,"dir":"up"},
{"d":"2022-12-01","vol":55,"volA":6,"dir":"up"},{"d":"2022-12-04","vol":40,"volA":5,"dir":"down"},{"d":"2022-12-07","vol":55,"volA":5,"dir":"up"},{"d":"2022-12-10","vol":45,"volA":7,"dir":"down"},{"d":"2022-12-13","vol":95,"volA":11,"dir":"down"},{"d":"2022-12-16","vol":195,"volA":18,"dir":"down"},{"d":"2022-12-19","vol":75,"volA":6,"dir":"up"},{"d":"2022-12-22","vol":65,"volA":6,"dir":"up"},{"d":"2022-12-25","vol":40,"volA":5,"dir":"down"},{"d":"2022-12-28","vol":70,"volA":5,"dir":"down"},
{"d":"2023-01-01","vol":40,"volA":5,"dir":"up"},{"d":"2023-01-04","vol":65,"volA":5,"dir":"up"},{"d":"2023-01-07","vol":35,"volA":4,"dir":"down"},{"d":"2023-01-10","vol":55,"volA":5,"dir":"up"},{"d":"2023-01-13","vol":45,"volA":6,"dir":"up"},{"d":"2023-01-16","vol":110,"volA":5,"dir":"up"},{"d":"2023-01-19","vol":50,"volA":4,"dir":"up"},{"d":"2023-01-22","vol":50,"volA":5,"dir":"down"},{"d":"2023-01-25","vol":40,"volA":4,"dir":"up"},{"d":"2023-01-28","vol":38,"volA":4,"dir":"down"},
{"d":"2023-02-01","vol":62,"volA":4,"dir":"down"},{"d":"2023-02-04","vol":35,"volA":4,"dir":"up"},{"d":"2023-02-07","vol":40,"volA":4,"dir":"down"},{"d":"2023-02-10","vol":22,"volA":3,"dir":"up"},{"d":"2023-02-13","vol":18,"volA":3,"dir":"down"},{"d":"2023-02-16","vol":32,"volA":3,"dir":"up"},{"d":"2023-02-19","vol":25,"volA":3,"dir":"down"},{"d":"2023-02-22","vol":45,"volA":4,"dir":"up"},{"d":"2023-02-25","vol":66,"volA":6,"dir":"down"},{"d":"2023-02-28","vol":72,"volA":6,"dir":"down"},
{"d":"2023-03-04","vol":42,"volA":5,"dir":"up"},{"d":"2023-03-07","vol":38,"volA":5,"dir":"down"},{"d":"2023-03-10","vol":30,"volA":4,"dir":"down"},{"d":"2023-03-13","vol":60,"volA":5,"dir":"down"},{"d":"2023-03-16","vol":40,"volA":5,"dir":"up"},{"d":"2023-03-19","vol":62,"volA":5,"dir":"down"},{"d":"2023-03-22","vol":28,"volA":4,"dir":"up"},{"d":"2023-03-25","vol":35,"volA":4,"dir":"down"},{"d":"2023-03-28","vol":28,"volA":4,"dir":"up"},
{"d":"2023-04-01","vol":30,"volA":4,"dir":"down"},{"d":"2023-04-04","vol":60,"volA":6,"dir":"up"},{"d":"2023-04-07","vol":25,"volA":4,"dir":"down"}
]
},
"encoding":{
 "x":{"field":"d","type":"temporal","scale":{"type":"utc","domain":["2020-04-01","2023-04-27"],"padding":0,"nice":false},
  "axis":{"title":null,"grid":false,"orient":"bottom","domainColor":"#aab2ba","domainWidth":2,"tickColor":"#c5ccd3","tickWidth":1.5,"tickSize":4,"labelColor":"#e6ebf0","labelPadding":6,
   "values":[{"year":2020,"month":"jul","date":1,"utc":true},{"year":2021,"month":"jan","date":1,"utc":true},{"year":2021,"month":"jul","date":1,"utc":true},{"year":2022,"month":"jan","date":1,"utc":true},{"year":2022,"month":"jul","date":1,"utc":true},{"year":2023,"month":"jan","date":1,"utc":true}],
   "labelExpr":"utcFormat(datum.value,'%b %Y')",
   "labelFontSize":{"expr":"utcmonth(datum.value)==0?14:11"},
   "labelFontWeight":{"expr":"utcmonth(datum.value)==0?500:400"},
   "labelOverlap":false}}
},
"layer":[
{"data":{"name":"volume"},
 "mark":{"type":"bar","width":2.8,"opacity":0.6},
 "encoding":{
  "y":{"field":"vol","type":"quantitative","scale":{"domain":[0,1163],"nice":false},
   "axis":{"title":null,"grid":false,"orient":"right","domain":false,"values":[50,100,150,200],"labelExpr":"datum.value+'M'","labelAlign":"right","labelPadding":-3,"labelFontSize":10,"labelColor":"#c9d2da","labelOffset":-1,"tickSize":-3,"tickWidth":3,"tickColor":"#c9d2da"}},
  "color":{"field":"dir","type":"nominal","scale":{"domain":["up","down"],"range":["#93c47d","#e06666"]},"legend":null}
 }},
{"data":{"name":"volume"},
 "mark":{"type":"bar","width":2.8,"opacity":0.6},
 "encoding":{
  "y":{"field":"volA","type":"quantitative","scale":{"domain":[0,232.6],"nice":false},
   "axis":{"title":null,"grid":false,"orient":"right","domain":false,"values":[10,20,30,40],"labelExpr":"datum.value+'M'","labelAlign":"right","labelPadding":-3,"labelFontSize":10,"labelColor":"#c9c6e8","labelOffset":3,"tickSize":0}},
  "color":{"field":"dir","type":"nominal","legend":null}
 }},
{"layer":[
 {"data":{"name":"prices"},
  "mark":{"type":"line","color":"#1e88e5","strokeWidth":1.3},
  "encoding":{
   "y":{"field":"PBR","type":"quantitative","scale":{"type":"log","domain":[2.03,19.56],"nice":false},
    "axis":{"title":null,"grid":false,"orient":"right","domainColor":"#9aa1a8","domainWidth":2,"tickColor":"#e6ebf0","tickSize":3,"tickWidth":1.5,"labelColor":"#e6ebf0","labelFontSize":12,"labelPadding":7,"labelOverlap":false,"labelBound":false,"values":[2.04,2.39,3,4,5,6,7,8,10,12,14,16,18],"format":".2f"}}
  }},
 {"data":{"name":"prices"},
  "mark":{"type":"line","color":"#7a00ef","strokeWidth":1.3},
  "encoding":{"y":{"field":"PBRA","type":"quantitative"}}},
 {"data":{"values":[{"d":"2020-04-08","d2":"2021-07-22","p":19.23,"p2":17.43},{"d":"2021-08-01","d2":"2022-11-17","p":19.23,"p2":17.43}]},
  "mark":{"type":"rect","fill":"#1f2d3d","stroke":"#2b3b4d","cornerRadius":3},
  "encoding":{"x2":{"field":"d2"},"y":{"field":"p","type":"quantitative"},"y2":{"field":"p2"}}},
 {"data":{"values":[{"d":"2020-04-08","d2":"2020-04-12","p":19.23,"p2":17.43,"s":"PBR"},{"d":"2021-08-01","d2":"2021-08-06","p":19.23,"p2":17.43,"s":"PBRA"},{"d":"2023-04-28","d2":"2023-07-10","p":11.21,"p2":10.16,"s":"PBR"},{"d":"2023-04-28","d2":"2023-07-10","p":9.96,"p2":9.06,"s":"PBRA"}]},
  "mark":{"type":"rect"},
  "encoding":{"x2":{"field":"d2"},"y":{"field":"p","type":"quantitative"},"y2":{"field":"p2"},
   "fill":{"field":"s","type":"nominal","scale":{"domain":["PBR","PBRA"],"range":["#1e88e5","#7a00ef"]},"legend":null}}},
 {"data":{"values":[{"d":"2020-04-18","p":18.31,"t":"PBR"},{"d":"2020-05-24","p":18.31,"t":"Petróleo Brasileiro S.A. - Petrobras"},{"d":"2021-01-10","p":18.31,"t":"10.69"},{"d":"2021-08-11","p":18.31,"t":"PBRA"},{"d":"2021-09-27","p":18.31,"t":"Petróleo Brasileiro S.A. - Petrobras"},{"d":"2022-05-14","p":18.31,"t":"9.51"}]},
  "mark":{"type":"text","align":"left","baseline":"middle","fontSize":12.7,"fontWeight":500,"color":"#e9edf2"},
  "encoding":{"y":{"field":"p","type":"quantitative"},"text":{"field":"t"}}},
 {"data":{"values":[{"d":"2021-02-14","p":18.2,"t":"USD"},{"d":"2022-06-13","p":18.2,"t":"USD"}]},
  "mark":{"type":"text","align":"left","baseline":"middle","fontSize":8,"color":"#a6afb8"},
  "encoding":{"y":{"field":"p","type":"quantitative"},"text":{"field":"t"}}},
 {"data":{"values":[{"d":"2021-03-13","p":18.31,"t":"-0.18"},{"d":"2021-04-21","p":18.31,"t":"-1.66"},{"d":"2022-07-08","p":18.31,"t":"-0.17"},{"d":"2022-08-17","p":18.31,"t":"-1.76"}]},
  "mark":{"type":"text","align":"left","baseline":"middle","fontSize":12.5,"fontWeight":500,"color":"#f4595b"},
  "encoding":{"y":{"field":"p","type":"quantitative"},"text":{"field":"t"}}},
 {"data":{"values":[{"d":"2021-05-22","p":18.2,"t":"%"},{"d":"2022-09-18","p":18.2,"t":"%"}]},
  "mark":{"type":"text","align":"left","baseline":"middle","fontSize":8,"fontWeight":700,"color":"#f4595b"},
  "encoding":{"y":{"field":"p","type":"quantitative"},"text":{"field":"t"}}},
 {"data":{"values":[{"d":"2021-06-16","p":18.31},{"d":"2022-10-12","p":18.31}]},
  "mark":{"type":"point","shape":"M-1,0L0,-.4L1,0L0,.4Z M-1,.25L0,.65L1,.25 M-1,.5L0,.9L1,.5 M.6,-.9V-.3 M.3,-.6H.9","filled":false,"size":196,"stroke":"#7e8894","strokeWidth":1.5,"opacity":1},
  "encoding":{"y":{"field":"p","type":"quantitative"}}},
 {"data":{"values":[{"d":"2021-07-07","p":18.31},{"d":"2022-11-02","p":18.31}]},
  "mark":{"type":"point","shape":"M-1,-1L1,1M1,-1L-1,1","filled":false,"size":81,"stroke":"#7e8894","strokeWidth":1.3,"opacity":1},
  "encoding":{"y":{"field":"p","type":"quantitative"}}},
 {"data":{"values":[{"d":"2023-06-03","p":10.88,"t":"PBR"},{"d":"2023-06-03","p":10.5,"t":"10.69"},{"d":"2023-06-03","p":9.67,"t":"PBRA"},{"d":"2023-06-03","p":9.33,"t":"9.51"}]},
  "mark":{"type":"text","align":"center","baseline":"middle","fontSize":11,"fontWeight":700,"color":"#ffffff"},
  "encoding":{"y":{"field":"p","type":"quantitative"},"text":{"field":"t"}}}
]}
],
"resolve":{"scale":{"y":"independent"},"axis":{"y":"independent"}}
}
